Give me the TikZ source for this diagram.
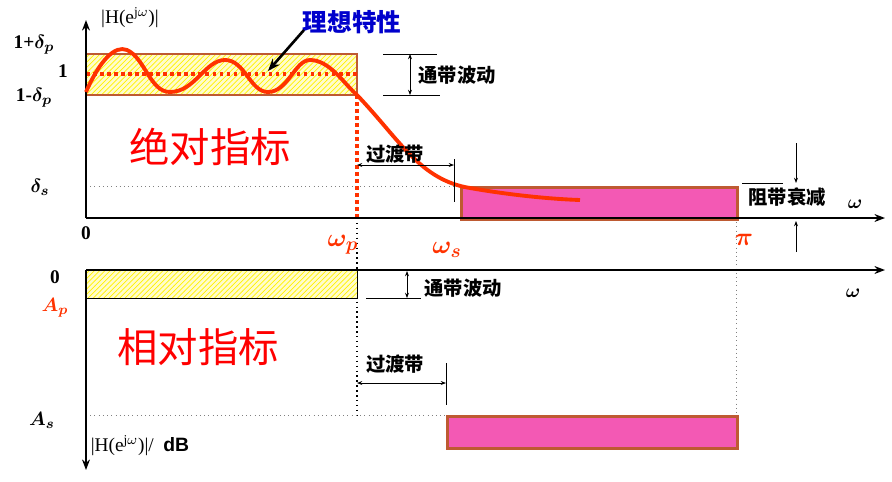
\documentclass[tikz,border=0pt]{standalone}
\usepackage{amsmath}
\usepackage{bm}
\usepackage{fontspec}
\setmainfont{Liberation Serif}
\newfontfamily\cjk{Noto Sans CJK SC}
\newfontfamily\sans{Liberation Sans}
\usetikzlibrary{patterns,arrows.meta}
\definecolor{boxbrown}{RGB}{190,90,50}
\definecolor{redc}{RGB}{255,50,0}
\begin{document}
\begin{tikzpicture}[x=0.02cm,y=-0.02cm,
 axis/.style={line width=1.6pt,-{Stealth[length=6pt]}},
 lab/.style={font=\bfseries\fontsize{11}{12}\selectfont},
 cn/.style={font=\cjk\bfseries\fontsize{11}{12}\selectfont},
 big/.style={font=\cjk\fontsize{23}{25}\selectfont,text=red},
 dim/.style={thin,{Stealth[length=3pt]}-{Stealth[length=3pt]}},
 stopb/.style={draw=boxbrown,line width=1.5pt,fill=magenta!65}]
\useasboundingbox (0,0) rectangle (892,481);
% top plot
\fill[yellow!20] (86,54) rectangle (357,95);
\fill[pattern=north east lines,pattern color=yellow!90!orange] (86,54) rectangle (357,95);
\draw[boxbrown,line width=1.5pt] (86,54) rectangle (357,95);
\draw[redc,line width=2pt,dotted] (86,74) -- (357,74);
\draw[gray,dotted,thin] (86,186) -- (460,186);
\node[stopb,minimum width=276*0.02cm,minimum height=32*0.02cm,inner sep=0,anchor=north west] (sb) at (460,186) {};
\draw[redc,line width=2pt,dotted] (357,95) -- (357,218);
\draw[black,thick,dotted] (357,218) -- (357,415);
\draw[gray,dotted,thin] (736,218) -- (736,415);
\coordinate (o1) at (86,218);
\coordinate (ytop) at (86,20);
\coordinate (xend) at (885,218);
\draw[axis] (o1) -- (ytop);
\draw[axis] (o1) -- (xend);
\draw[redc,line width=2.2pt] (86,92) .. controls (100,60) and (115,45) .. (127,50)
 .. controls (145,58) and (150,92) .. (170,92)
 .. controls (195,92) and (205,60) .. (225,60)
 .. controls (245,60) and (250,92) .. (268,92)
 .. controls (288,92) and (295,60) .. (310,60)
 .. controls (330,60) and (345,85) .. (357,95)
 .. controls (400,140) and (420,180) .. (470,188)
 .. controls (510,195) and (550,199) .. (580,200);
\node[lab] (h1) at (130,18) {\textnormal{|H(e\textsuperscript{j$\omega$})|}};
\node[lab] (l1) at (34,45) {1+$\bm{\delta_p}$};
\node[lab] (l2) at (63,71) {1};
\node[lab] (l3) at (34,98) {1-$\bm{\delta_p}$};
\node[lab] (l4) at (40,187) {$\bm{\delta_s}$};
\node[lab] (l5) at (86,233) {0};
\node[cn,text=blue!80!black,font=\cjk\bfseries\fontsize{14}{15}\selectfont] (ideal) at (352,22) {理想特性};
\coordinate (is) at (304,30);
\coordinate (ia) at (268,71);
\draw[line width=1.5pt,-{Stealth[length=7pt]}] (is) -- (ia);
\node[big] (abs) at (210,147) {绝对指标};
\draw[thin] (383,54) -- (437,54); \draw[thin] (383,95) -- (440,95);
\coordinate (d1a) at (410,54); \coordinate (d1b) at (410,95);
\draw[dim] (d1a) -- (d1b);
\node[cn] (pr1) at (457,75) {通带波动};
\coordinate (t1a) at (357,165); \coordinate (t1b) at (454,165);
\draw[dim] (t1a) -- (t1b);
\draw[thin] (454,159) -- (454,202);
\node[cn] (tr1) at (395,154) {过渡带};
\draw[thin] (742,183) -- (783,183);
\coordinate (s1) at (796,143); \coordinate (s2) at (796,183);
\draw[thin,-{Stealth[length=3pt]}] (s1) -- (s2);
\coordinate (s3) at (796,252); \coordinate (s4) at (796,221);
\draw[thin,-{Stealth[length=3pt]}] (s3) -- (s4);
\node[cn] (att) at (787,197) {阻带衰减};
\node[lab] (w1) at (855,204) {$\bm{\omega}$};
\node[text=redc,font=\fontsize{15}{16}\selectfont] (pi) at (744,240) {$\bm{\pi}$};
\node[text=redc,font=\fontsize{15}{16}\selectfont] (wp) at (343,245) {$\bm{\omega_p}$};
\node[text=redc,font=\fontsize{15}{16}\selectfont] (ws) at (447,250) {$\bm{\omega_s}$};
% bottom plot
\fill[yellow!20] (86,270) rectangle (357,298);
\fill[pattern=north east lines,pattern color=yellow!90!orange] (86,270) rectangle (357,298);
\draw[thin] (86,298) -- (357,298) -- (357,270);
\draw[gray,dotted,thin] (86,415) -- (446,415);
\node[stopb,minimum width=290*0.02cm,minimum height=32*0.02cm,inner sep=0,anchor=north west] (sb2) at (446,415) {};
\coordinate (o2) at (86,270);
\coordinate (ybot) at (86,470);
\coordinate (xend2) at (885,270);
\draw[axis] (o2) -- (ybot);
\draw[axis] (o2) -- (xend2);
\node[lab] (z2) at (55,277) {0};
\node[lab,text=redc] (ap) at (55,308) {$\bm{A_p}$};
\node[lab] (as) at (42,420) {$\bm{A_s}$};
\draw[thin] (366,298) -- (421,298);
\coordinate (d2a) at (407,271); \coordinate (d2b) at (407,298);
\draw[dim] (d2a) -- (d2b);
\node[cn] (pr2) at (463,288) {通带波动};
\coordinate (t2a) at (357,383); \coordinate (t2b) at (446,383);
\draw[dim] (t2a) -- (t2b);
\draw[thin] (446,363) -- (446,405);
\node[cn] (tr2) at (395,364) {过渡带};
\node[lab] (w2) at (853,293) {$\bm{\omega}$};
\node[big] (rel) at (198,347) {相对指标};
\node (hdb) at (140,446) {\fontsize{11}{12}\selectfont |H(e\textsuperscript{j$\omega$})|/ \ \sans\bfseries dB};
\end{tikzpicture}
\end{document}
